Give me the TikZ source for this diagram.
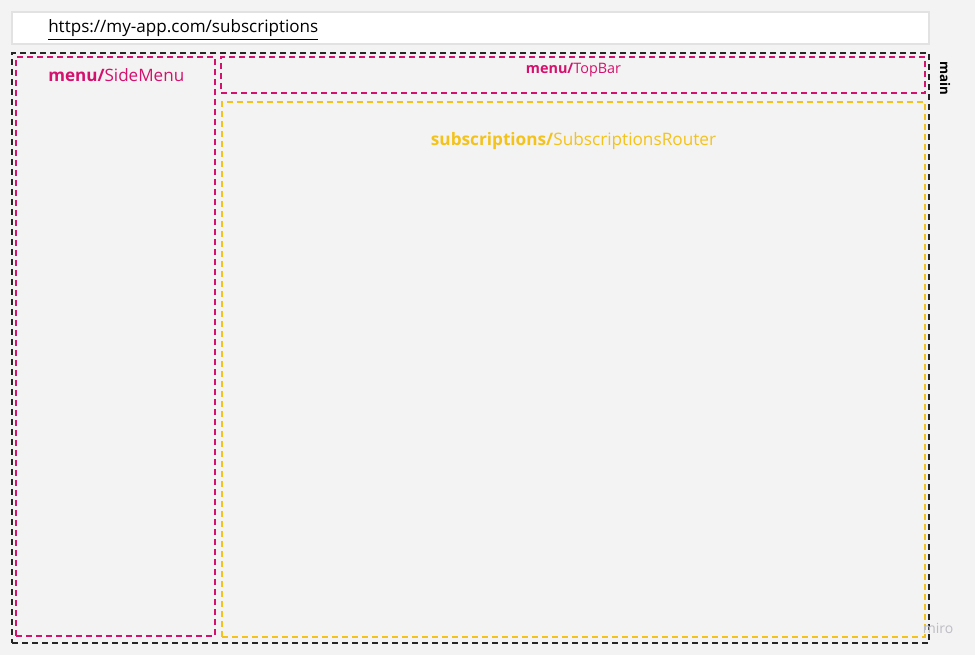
\documentclass[tikz,border=0pt]{standalone}
\usepackage{fontspec}
\setmainfont{Open Sans}
\usetikzlibrary{positioning}

\definecolor{pagebg}{HTML}{F3F3F3}
\definecolor{urlline}{HTML}{E2E2E2}
\definecolor{menupink}{HTML}{D4116C}
\definecolor{routeryellow}{HTML}{F3C31C}
\definecolor{mirogray}{HTML}{BDBDC4}

\tikzset{
  frame/.style={draw, rectangle, line width=1.1pt, dash pattern=on 4.5pt off 3pt},
  mainframe/.style={frame, draw=black!85},
  menuframe/.style={frame, draw=menupink},
  routerframe/.style={frame, draw=routeryellow},
  boxlabel/.style={inner sep=0pt, font=\fontsize{12.8}{15}\selectfont}
}

\begin{document}
\begin{tikzpicture}[x=0.75pt, y=-0.75pt]
\useasboundingbox[fill=pagebg] (0,0) rectangle (975,655);

% adresszeile
\node[draw=urlline, fill=white, rectangle, minimum width=687.75pt, minimum height=24pt, line width=0.8pt] (url) at (470.5,28) {};
\node[boxlabel, anchor=base west] (urltext) at (48,33) {\underline{https://my-app.com/subscriptions}};

% rahmen
\node[mainframe, minimum width=687.75pt, minimum height=442.5pt] (main) at (470.5,348) {};
\node[menuframe, minimum width=149.25pt, minimum height=434.25pt] (sidemenu) at (115.5,346.5) {};
\node[menuframe, minimum width=528pt, minimum height=27pt] (topbar) at (573,75) {};
\node[routerframe, minimum width=527.25pt, minimum height=401.25pt] (router) at (573.5,369.5) {};

% beschriftungen
\node[boxlabel, anchor=base west, text=menupink] (sidemenulabel) at (48,82) {\textbf{menu/}SideMenu};
\node[boxlabel, anchor=base, text=menupink, font=\fontsize{10.8}{12}\selectfont] (topbarlabel) at (573.5,73.5) {\textbf{menu/}TopBar};
\node[boxlabel, anchor=base, text=routeryellow, font=\fontsize{12.9}{15}\selectfont] (routerlabel) at (573.5,146) {\textbf{subscriptions/}SubscriptionsRouter};
\node[boxlabel, rotate=-90, font=\bfseries\fontsize{10}{12}\selectfont] (mainlabel) at (945,78.5) {main};

% wasserzeichen
\node[boxlabel, text=mirogray, font=\fontsize{10.5}{12}\selectfont] (miro) at (938,628) {miro};
\end{tikzpicture}
\end{document}
